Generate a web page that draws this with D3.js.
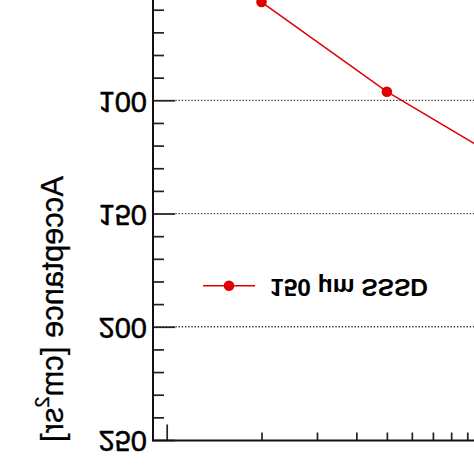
<!DOCTYPE html>
<html>
<head>
<meta charset="utf-8">
<script src="https://cdn.jsdelivr.net/npm/d3@7"></script>
<style>
  html, body { margin: 0; padding: 0; background: #fff; }
  svg { display: block; }
</style>
</head>
<body>
<script>
// ---- data (the picture is a vertically mirrored ROOT plot) ----
const energies = [20, 50, 100];              // x (log axis), visible tick decade 10..100
const acceptance = [56.6, 96.2, 121.0];      // y values
const seriesName = "150 μm SSSD";
const yMajorTicks = [100, 150, 200, 250];
const yMinorTicks = [60, 70, 80, 90, 110, 120, 130, 140, 160, 170, 180, 190, 210, 220, 230, 240];
const xMajorTicks = [10];
const xMinorTicks = [20, 30, 40, 50, 60, 70, 80, 90];
const yTitleMain = "Acceptance [cm";
const yTitleSup = "2";
const yTitleEnd = "sr]";

const W = 474, H = 474;
const frameX = 153, frameY = 440.5;
const red = "#e00000";
const font = "Liberation Sans, Arial, sans-serif";

const svg = d3.select("body").append("svg").attr("width", W).attr("height", H);
svg.append("rect").attr("width", W).attr("height", H).attr("fill", "#fff");

// y grows downward in this mirrored picture
const y = d3.scaleLinear().domain([55.71, 250]).range([0, 440]);
const x = d3.scaleLog().domain([10, 100]).range([166.7, 481.7]);

// grid (dotted) at major y ticks
svg.append("g").selectAll("line").data(yMajorTicks.filter(d => d < 250)).join("line")
  .attr("x1", frameX).attr("x2", W)
  .attr("y1", d => y(d)).attr("y2", d => y(d))
  .attr("stroke", "#333").attr("stroke-width", 1.3).attr("stroke-dasharray", "1.3,1.9");

// y axis: major ticks with labels
const yAxisMajor = svg.append("g").attr("transform", `translate(${frameX},0)`)
  .call(d3.axisLeft(y).tickValues(yMajorTicks).tickSize(-22).tickSizeOuter(0).tickPadding(6).tickFormat(d3.format("d")));
yAxisMajor.select(".domain").remove();
yAxisMajor.selectAll(".tick line").attr("stroke", "#222").attr("stroke-width", 1.7);
yAxisMajor.selectAll(".tick text")
  .attr("font-family", font)
  .attr("font-size", 29).attr("fill", "#000")
  .attr("stroke", "#000").attr("stroke-width", 0.5)
  .attr("transform", "scale(1,-1)");

// y axis: minor ticks
const yAxisMinor = svg.append("g").attr("transform", `translate(${frameX},0)`)
  .call(d3.axisLeft(y).tickValues(yMinorTicks).tickSize(-11).tickSizeOuter(0).tickFormat(""));
yAxisMinor.select(".domain").remove();
yAxisMinor.selectAll(".tick line").attr("stroke", "#222").attr("stroke-width", 1.7);

// x axis (frame edge) ticks pointing into the plot
const xAxisMajor = svg.append("g").attr("transform", `translate(0,${frameY})`)
  .call(d3.axisBottom(x).tickValues(xMajorTicks).tickSize(-16).tickSizeOuter(0).tickFormat(""));
xAxisMajor.select(".domain").remove();
xAxisMajor.selectAll(".tick line").attr("stroke", "#222").attr("stroke-width", 1.7);
const xAxisMinor = svg.append("g").attr("transform", `translate(0,${frameY})`)
  .call(d3.axisBottom(x).tickValues(xMinorTicks).tickSize(-8).tickSizeOuter(0).tickFormat(""));
xAxisMinor.select(".domain").remove();
xAxisMinor.selectAll(".tick line").attr("stroke", "#222").attr("stroke-width", 1.7);

// frame lines
svg.append("line").attr("x1", frameX).attr("x2", frameX).attr("y1", 0).attr("y2", frameY + 1)
  .attr("stroke", "#111").attr("stroke-width", 2);
svg.append("line").attr("x1", frameX).attr("x2", W).attr("y1", frameY).attr("y2", frameY)
  .attr("stroke", "#111").attr("stroke-width", 2);

// y title (mirrored vertically)
const yt = svg.append("text")
  .attr("transform", "translate(63,309) scale(1,-1) rotate(-90)")
  .attr("text-anchor", "middle")
  .attr("font-family", font)
  .attr("font-size", 31).attr("fill", "#000")
  .attr("stroke", "#000").attr("stroke-width", 0.3);
yt.append("tspan").text(yTitleMain);
yt.append("tspan").attr("font-size", 20).attr("dy", -14).text(yTitleSup);
yt.append("tspan").attr("dy", 14).text(yTitleEnd);

// data line and markers
const pts = energies.map((e, i) => [e, acceptance[i]]);
svg.append("path").datum(pts)
  .attr("d", d3.line().x(d => x(d[0])).y(d => y(d[1])))
  .attr("fill", "none").attr("stroke", red).attr("stroke-width", 1.5);
svg.append("g").selectAll("circle").data(pts).join("circle")
  .attr("cx", d => x(d[0])).attr("cy", d => y(d[1])).attr("r", 5.3).attr("fill", red);

// legend
const lg = svg.append("g").attr("transform", "translate(203,285.7)");
lg.append("line").attr("x1", 0).attr("x2", 52).attr("y1", 0).attr("y2", 0)
  .attr("stroke", red).attr("stroke-width", 1.5);
lg.append("circle").attr("cx", 26).attr("cy", 0).attr("r", 5.3).attr("fill", red);
lg.append("text")
  .attr("transform", "translate(67,2) scale(1,-1)")
  .attr("dy", "0.35em")
  .attr("font-family", font)
  .attr("font-weight", "bold")
  .attr("font-size", 24.5).attr("fill", "#000")
  .text(seriesName);
</script>
</body>
</html>
